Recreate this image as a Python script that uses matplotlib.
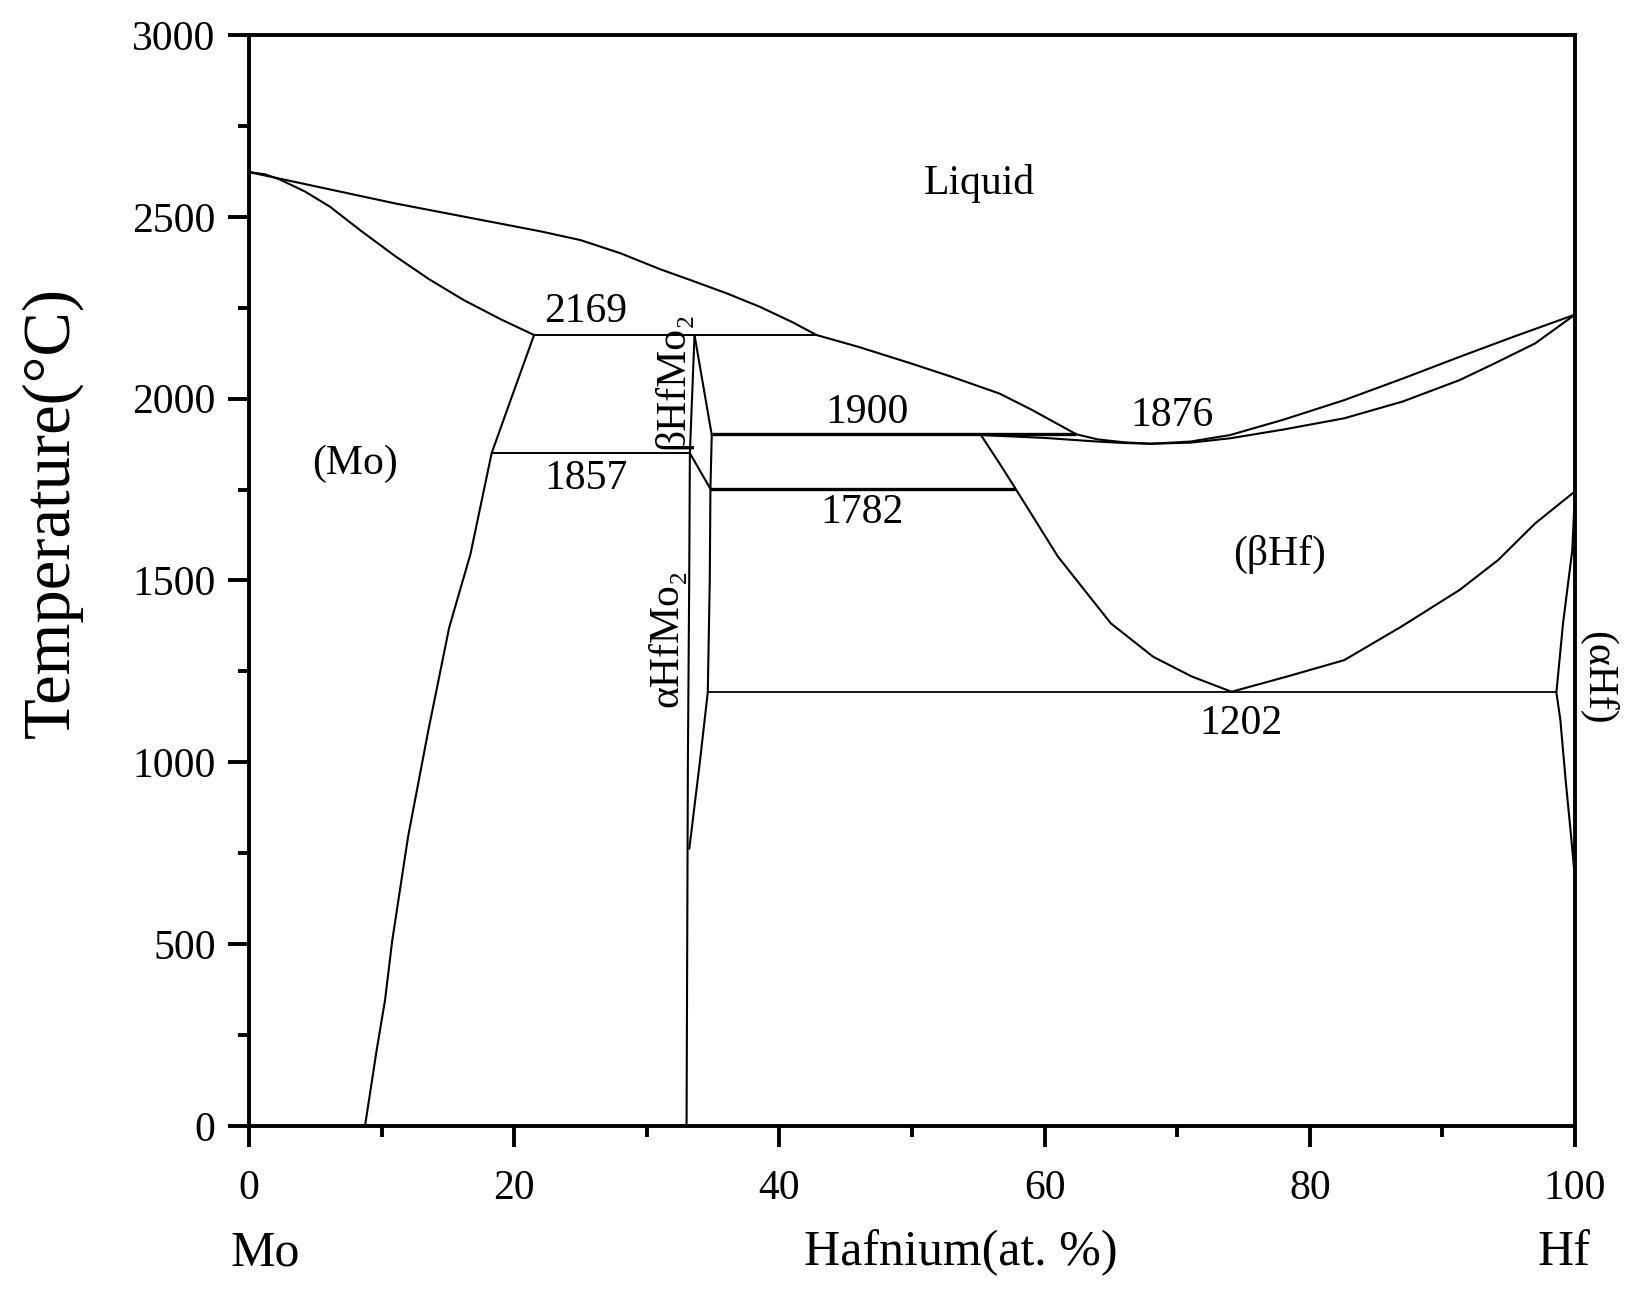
import matplotlib
matplotlib.use('Agg')
import matplotlib.pyplot as plt
from matplotlib.ticker import MultipleLocator

plt.rcParams['font.family'] = ['Liberation Serif', 'DejaVu Serif']

# ---------------- data ----------------
# liquidus, Mo side down to peritectic liquid (43 at.% Hf)
liq1_x = [0, 5, 11, 18, 22, 25, 28, 31, 33.3, 36, 38.5, 41, 42.8]
liq1_t = [2623, 2584, 2537, 2488, 2460, 2436, 2400, 2356, 2326, 2290, 2253, 2210, 2175]
# liquidus from peritectic through minimum up to Hf
liq2_x = [42.8, 46, 50, 53, 56.6, 59, 61, 62.4, 64, 66, 68, 71, 74, 78, 82.6, 87, 91.3, 95.5, 100]
liq2_t = [2175, 2142, 2096, 2060, 2014, 1970, 1930, 1902, 1888, 1880, 1876, 1882, 1900, 1942, 1996, 2055, 2115, 2172, 2231]
# (Mo) solidus
sol_mo_x = [0, 1.2, 2.3, 4.2, 6.1, 8.5, 11.1, 13.6, 16.2, 19, 21.5]
sol_mo_t = [2623, 2617, 2603, 2570, 2528, 2460, 2390, 2328, 2271, 2218, 2175]
# (Mo) solvus
solv_mo_x = [21.5, 19.8, 18.3, 16.7, 15.1, 13.5, 12.0, 10.8, 10.26, 9.63, 8.75]
solv_mo_t = [2175, 2003, 1850, 1572, 1371, 1083, 796, 509, 346, 209, 0]
# (betaHf) solidus
sol_hf_x = [55.2, 60, 64, 66, 68, 71, 74, 78, 82.6, 87, 91.3, 94, 97, 100]
sol_hf_t = [1900, 1892, 1882, 1878, 1876, 1879, 1891, 1915, 1946, 1992, 2051, 2098, 2152, 2231]
# (betaHf) solvus, HfMo2 side
bsolv_l_x = [55.2, 56.6, 57.8, 61, 65, 68.2, 71.1, 74.1]
bsolv_l_t = [1900, 1822, 1753, 1566, 1382, 1290, 1236, 1194]
# (betaHf) solvus, alphaHf side
bsolv_r_x = [74.1, 78.3, 82.6, 86.9, 91.3, 94.2, 97.0, 100]
bsolv_r_t = [1194, 1236, 1281, 1373, 1474, 1556, 1657, 1745]
# (alphaHf) boundary
ahf_x = [100, 99.8, 99.1, 98.6, 98.9, 99.3, 99.7, 100]
ahf_t = [1745, 1584, 1382, 1192, 1116, 950, 800, 680]
# beta-HfMo2 field
bmo2_l_x = [33.6, 33.25]
bmo2_l_t = [2175, 1850]
bmo2_r_x = [33.6, 34.9, 34.8]
bmo2_r_t = [2175, 1900, 1752]
bmo2_d_x = [33.25, 34.8]
bmo2_d_t = [1850, 1752]
# alpha-HfMo2 field
amo2_l_x = [33.25, 33.2, 33.1, 33.0]
amo2_l_t = [1850, 1500, 1000, 0]
amo2_r_x = [34.8, 34.75, 34.6, 34.0, 33.2]
amo2_r_t = [1752, 1500, 1192, 1000, 760]
# invariant lines: (x_start, x_end, T)
inv_2169 = (21.5, 42.8, 2175)
inv_1857 = (18.3, 33.25, 1850)
inv_1900 = (34.9, 62.4, 1902)
inv_1782 = (34.8, 57.8, 1752)
inv_1202 = (34.6, 98.6, 1192)

labels = [
    ('Liquid', 55.1, 2592, 0),
    ('2169', 25.4, 2238, 0),
    ('1900', 46.6, 1960, 0),
    ('1876', 69.6, 1954, 0),
    ('1857', 25.4, 1779, 0),
    ('1782', 46.2, 1687, 0),
    ('1202', 74.8, 1106, 0),
    ('(Mo)', 8.0, 1822, 0),
    ('(βHf)', 77.7, 1572, 0),
    ('βHfMo₂', 31.95, 2051, 90),
    ('αHfMo₂', 31.5, 1342, 90),
    ('(αHf)', 101.7, 1233, -90),
]

x_ticks = [0, 20, 40, 60, 80, 100]
y_ticks = [0, 500, 1000, 1500, 2000, 2500, 3000]

# ---------------- drawing ----------------
fig = plt.figure(figsize=(16.37, 12.96), dpi=100)
ax = fig.add_axes([0.1521, 0.1312, 0.81, 0.8418])

lw = 1.5
k = 'black'
for xs, ts in [(liq1_x, liq1_t), (liq2_x, liq2_t), (sol_mo_x, sol_mo_t),
               (solv_mo_x, solv_mo_t), (sol_hf_x, sol_hf_t),
               (bsolv_l_x, bsolv_l_t), (bsolv_r_x, bsolv_r_t), (ahf_x, ahf_t),
               (bmo2_l_x, bmo2_l_t), (bmo2_r_x, bmo2_r_t), (bmo2_d_x, bmo2_d_t),
               (amo2_l_x, amo2_l_t), (amo2_r_x, amo2_r_t)]:
    ax.plot(xs, ts, color=k, lw=lw, solid_capstyle='butt', solid_joinstyle='round')

for (x0, x1, t), w in [(inv_2169, 1.4), (inv_1857, 1.4), (inv_1900, 2.4),
                       (inv_1782, 2.4), (inv_1202, 1.3)]:
    ax.plot([x0, x1], [t, t], color=k, lw=w, solid_capstyle='butt')

for txt, x, y, rot in labels:
    ax.text(x, y, txt, ha='center', va='center', rotation=rot,
            fontsize=30, clip_on=False)

ax.set_xlim(0, 100)
ax.set_ylim(0, 3000)
ax.set_xticks(x_ticks)
ax.set_yticks(y_ticks)
ax.xaxis.set_minor_locator(MultipleLocator(10))
ax.yaxis.set_minor_locator(MultipleLocator(250))
ax.tick_params(which='major', direction='out', length=15, width=2.8,
               labelsize=30, top=False, right=False)
ax.tick_params(axis='x', which='major', pad=16)
ax.tick_params(axis='y', which='major', pad=9)
ax.tick_params(which='minor', direction='out', length=8, width=2.8,
               top=False, right=False)
for s in ax.spines.values():
    s.set_linewidth(2.8)

fig.text(0.032, 0.6045, 'Temperature(°C)', rotation=90, ha='center',
         va='center', fontsize=48)
fig.text(0.1521 + 0.81 * 0.012, 0.033, 'Mo', ha='center', va='center', fontsize=36)
fig.text(0.1521 + 0.81 * 0.992, 0.033, 'Hf', ha='center', va='center', fontsize=36)
fig.text(0.1521 + 0.81 * 0.537, 0.033, 'Hafnium(at. %)', ha='center',
         va='center', fontsize=36)

fig.savefig('out.png', dpi=100)
